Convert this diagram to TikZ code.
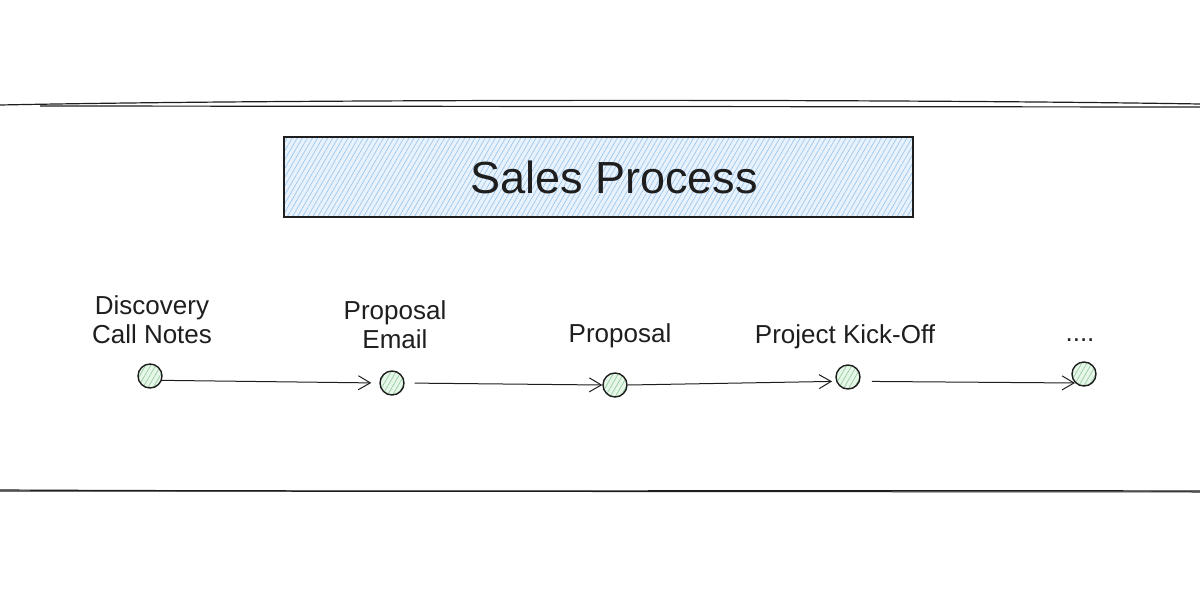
\documentclass[tikz,border=0pt]{standalone}
\usepackage{fontspec}
\setmainfont{Liberation Sans}
\usetikzlibrary{arrows.meta,patterns.meta}
\definecolor{inkgray}{RGB}{30,30,30}
\definecolor{boxblue}{RGB}{232,242,252}
\definecolor{hatchblue}{RGB}{150,195,235}
\definecolor{dotgreen}{RGB}{230,246,232}
\definecolor{hatchgreen}{RGB}{140,200,150}

\begin{document}
\begin{tikzpicture}[x=0.5pt,y=-0.5pt,
    stage/.style={circle,draw=inkgray,line width=0.7pt,minimum size=12pt,inner sep=0pt,
      preaction={fill=dotgreen},preaction={pattern={Lines[angle=60,distance=2.2pt,line width=0.3pt]},pattern color=hatchgreen}},
    caption/.style={align=center,text=inkgray,font=\fontsize{13}{14.5}\selectfont},
    flow/.style={draw=inkgray,line width=0.5pt,-{Straight Barb[length=6pt,width=7pt]}}]

      \useasboundingbox (0,0) rectangle (1200,600);

      % frame lines
      \draw[inkgray,line width=0.6pt] (0,105) .. controls (300,99) and (900,99) .. (1200,104);
      \draw[inkgray,line width=0.6pt] (40,106) -- (1200,107);
      \draw[inkgray,line width=0.6pt] (0,490) .. controls (400,492) and (800,490) .. (1200,491);
      \draw[inkgray,line width=0.5pt] (0,491) -- (1200,492);

      % title
      \node[draw=inkgray,line width=1pt,minimum width=314.5pt,minimum height=40pt,
        preaction={fill=boxblue},preaction={pattern={Lines[angle=60,distance=2.2pt,line width=0.3pt]},pattern color=hatchblue}]
        (box) at (598.5,177) {};
      \node[text=inkgray,font=\fontsize{22.5}{26}\selectfont] (title) at (614,177) {Sales Process};

      \begin{scope}[every node/.style={stage}]
        \node (1) at (150,376) {};
        \node (2) at (392,383) {};
        \node (3) at (615,385) {};
        \node (4) at (848,377) {};
        \node (5) at (1084,374) {};
      \end{scope}

      \begin{scope}[every node/.style={caption}]
        \node (l1) at (152,320) {Discovery\\Call Notes};
        \node (l2) at (395,325) {Proposal\\Email};
        \node (l3) at (620,336) {Proposal};
        \node (l4) at (845,337) {Project Kick-Off};
        \node (l5) at (1080,340) {....};
      \end{scope}

      \path (1.-20) edge[flow,shorten >=4pt] (2.west);
      \path (2.east) edge[flow,shorten <=5pt] (3.west);
      \path (3.east) edge[flow,shorten >=2pt] (4.200);
      \path (4.-20) edge[flow,shorten <=6pt] (5.225);

    \end{tikzpicture}
\end{document}
